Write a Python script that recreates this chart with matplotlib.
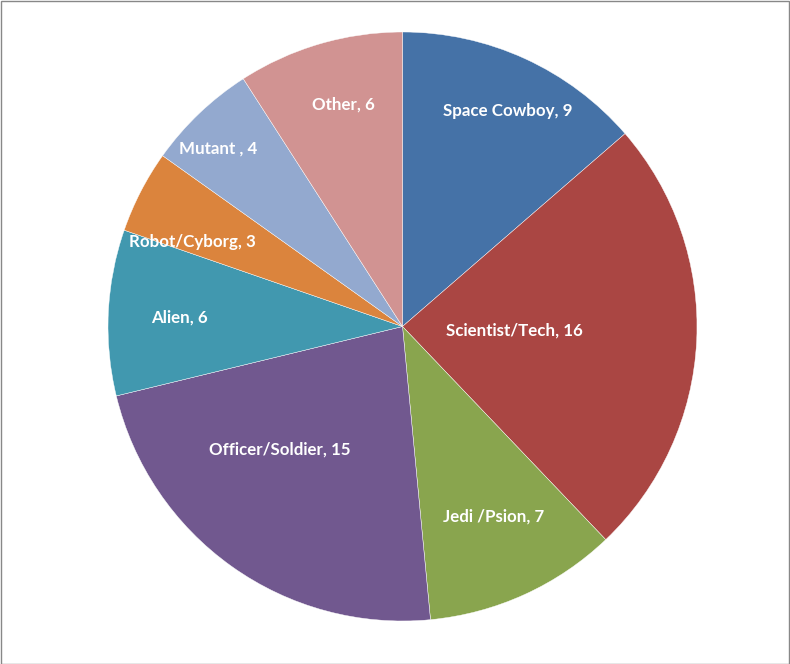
import matplotlib.pyplot as plt
import numpy as np
from matplotlib.patches import Rectangle

# datos de la torta
categorias = ["Space Cowboy", "Scientist/Tech", "Jedi /Psion", "Officer/Soldier",
              "Alien", "Robot/Cyborg", "Mutant ", "Other"]
valores = [9, 16, 7, 15, 6, 3, 4, 6]
colores = ["#4572A7", "#AA4643", "#89A54E", "#71588F",
           "#4198AF", "#DB843D", "#93A9CF", "#D19392"]

# distancia de cada etiqueta (fraccion del radio) y corrimiento de angulo en grados
dist_etiqueta = [0.815, 0.38, 0.715, 0.59, 0.757, 0.77, 0.87, 0.78]
giro_etiqueta = [-1.5, 0.5, 1.0, -9.5, 0.5, 5.5, 2.5, -1.5]

fig = plt.figure(figsize=(7.9, 6.64), dpi=100)
ax = fig.add_axes([0, 0, 1, 1])

wedges, _ = ax.pie(valores, colors=colores, startangle=90, counterclock=False,
                   radius=1.0, center=(0, 0),
                   wedgeprops={"edgecolor": "white", "linewidth": 0.3})

for w, cat, val, d, g in zip(wedges, categorias, valores, dist_etiqueta, giro_etiqueta):
    ang = np.deg2rad((w.theta1 + w.theta2) / 2 + g)
    ax.text(d * np.cos(ang), d * np.sin(ang), cat + ", " + str(val),
            ha="center", va="center", color="white", fontsize=12.2,
            fontweight="bold", family=["Lato", "DejaVu Sans"])

# ubicar la torta: centro (402.5, 326.5) px, radio 294.5 px
r = 294.5
cx, cy = 402.5, 664 - 326.5
ax.set_xlim(-cx / r, (790 - cx) / r)
ax.set_ylim(-cy / r, (664 - cy) / r)
ax.set_aspect("auto")
ax.axis("off")

fig.patches.append(Rectangle((0.5 / 790, 0.5 / 664), 1 - 1.5 / 790, 1 - 1.5 / 664,
                             transform=fig.transFigure, fill=False,
                             edgecolor="#888888", linewidth=1))

fig.savefig("out.png", dpi=100)
